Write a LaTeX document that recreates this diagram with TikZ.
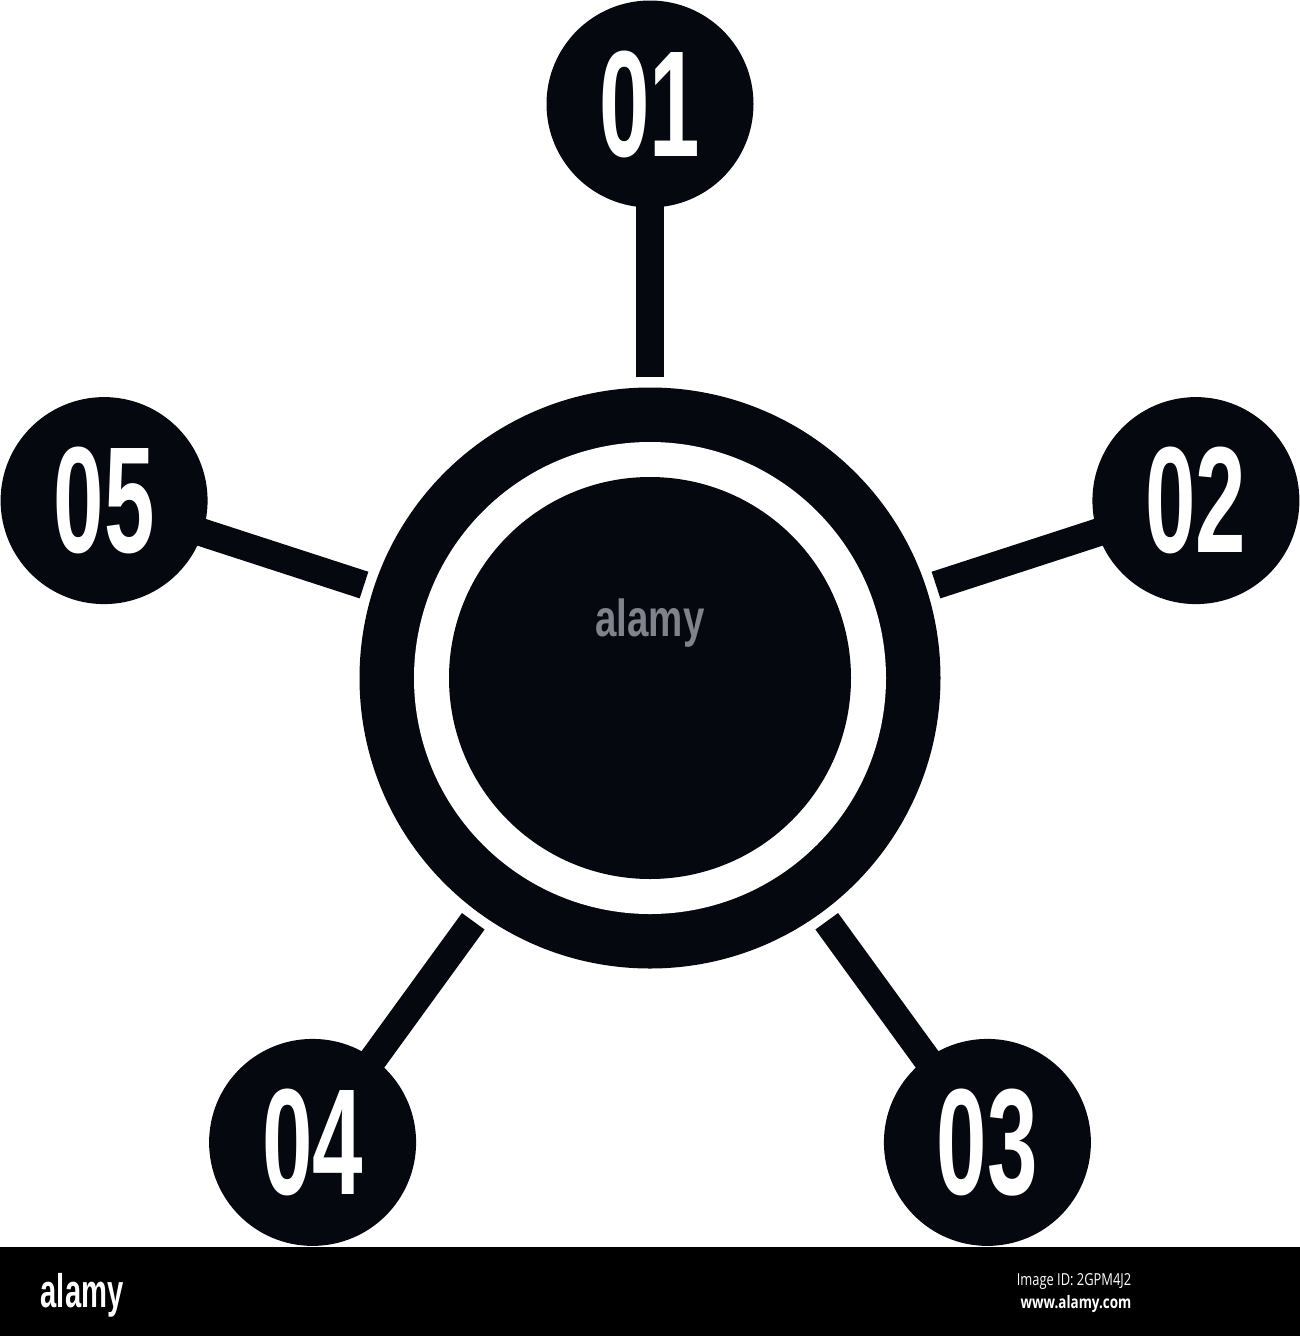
\documentclass[tikz,border=0pt]{standalone}
\usepackage{fontspec}
\usepackage{xcolor}
\newfontfamily\numfont{Liberation Sans Bold}[FakeStretch=0.6]
\newfontfamily\logofont{Liberation Sans Bold}[FakeStretch=0.62]
\newfontfamily\markfont{Liberation Sans Bold}[FakeStretch=0.74]
\newfontfamily\bandfont{Open Sans}[FakeStretch=0.78]
\definecolor{iconblack}{RGB}{5,8,15}
\definecolor{markgray}{RGB}{128,131,140}

\begin{document}
\begin{tikzpicture}[
    hubdisc/.style={circle, fill=iconblack, inner sep=0pt, minimum size=5.81cm},
    ringdisc/.style={circle, fill=white, inner sep=0pt, minimum size=4.72cm},
    coredisc/.style={circle, fill=iconblack, inner sep=0pt, minimum size=4.02cm},
    gapzone/.style={circle, inner sep=0pt, minimum size=6.0cm},
    sat/.style={
        circle,
        fill=iconblack,
        inner sep=0pt,
        minimum size=2.07cm,
        text=white,
        font=\numfont\fontsize{43}{43}\selectfont,
    },
    spoke/.style={draw=iconblack, line width=2.8mm, shorten >=-1.5pt},
]
\useasboundingbox (0,0) rectangle (13,-13.36);

% ----- Hub -----
\node[hubdisc] (hub) at (6.5,-6.78) {};
\node[ringdisc] (ring) at (hub) {};
\node[coredisc] (core) at (hub) {};
\node[gapzone] (zone) at (hub) {};
\node[anchor=base, text=markgray, font=\markfont\fontsize{14.8}{14.8}\selectfont]
    (mark) at (6.5,-6.36) {alamy};

% ----- Satellites -----
\node[sat] (n01) at (6.5,-1.04) {01};
\node[sat] (n02) at (11.959,-5.006) {02};
\node[sat] (n03) at (9.874,-11.424) {03};
\node[sat] (n04) at (3.126,-11.424) {04};
\node[sat] (n05) at (1.041,-5.006) {05};

% ----- Spokes -----
\draw[spoke] (zone) -- (n01);
\draw[spoke] (zone) -- (n02);
\draw[spoke] (zone) -- (n03);
\draw[spoke] (zone) -- (n04);
\draw[spoke] (zone) -- (n05);

% ----- Bottom band -----
\fill[black] (0,-12.47) rectangle (13,-13.36);
\node[anchor=base west, inner sep=0pt, text=white, font=\logofont\fontsize{13.4}{13.4}\selectfont]
    (logo) at (0.40,-13.07) {alamy};
\node[anchor=base east, inner sep=0pt, text=white, font=\bandfont\fontsize{4.7}{4.7}\selectfont]
    (imgid) at (11.32,-12.85) {Image ID: 2GPM4J2};
\node[anchor=base east, inner sep=0pt, text=white, font=\bandfont\bfseries\fontsize{4.9}{4.9}\selectfont]
    (site) at (11.32,-13.08) {www.alamy.com};

\end{tikzpicture}
\end{document}
